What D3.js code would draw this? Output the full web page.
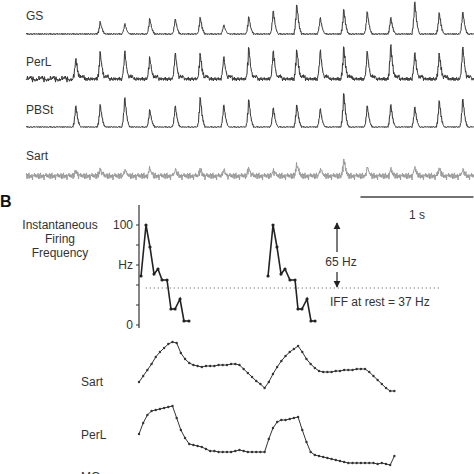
<!DOCTYPE html>
<html>
<head>
<meta charset="utf-8">
<script src="https://cdn.jsdelivr.net/npm/d3@7"></script>
<style>
  body { margin: 0; background: #fff; }
  text { font-family: "Liberation Sans", Arial, sans-serif; fill: #333; }
</style>
</head>
<body>
<svg id="fig" width="474" height="474"></svg>
<script>
// ---- data -------------------------------------------------------------
// spike times (s) in the EMG traces
const spikeTimes = [0.44, 0.655, 0.876, 1.097, 1.319, 1.54, 1.752, 1.973, 2.186, 2.398, 2.602, 2.814, 3.018, 3.23, 3.442, 3.655, 3.867]
// spike amplitudes (px) per muscle
const gsAmp   = [0, 12, 10, 15, 15, 16, 9, 17, 23, 29, 16, 24, 22, 16, 32, 21, 22]
const perlAmp = [20, 26, 27, 21, 26, 24, 22, 31, 28, 29, 28, 31, 27, 33, 26, 25, 32]
const pbstAmp = [21, 22, 29, 17, 21, 29, 22, 27, 19, 22, 18, 33, 21, 22, 20, 26, 28]
const sartAmp = [5, 7, 6, 7, 6, 6, 6, 8, 6, 12, 7, 16, 8, 6, 8, 7, 6]
// hand-read baseline wiggle, repeated along the trace
const wiggle = [0, 0.6, -0.4, 0.9, -0.7, 0.2, 0.5, -0.9, 0.3, -0.2, 0.8, -0.5, 0.1, -0.8, 0.6, 0.4, -0.3, 0.7, -0.6, 0.2, -0.1, 0.5, -0.7]
const spikeShape = [0.15, 0.5, 1, 0.7, 0.4, 0.2, 0.08]

// instantaneous firing frequency (Hz)
const iffTimes1 = [1.018, 1.062, 1.097, 1.133, 1.168, 1.204, 1.248, 1.283, 1.319, 1.363, 1.398, 1.442]
const iffTimes2 = [2.142, 2.186, 2.221, 2.257, 2.292, 2.336, 2.381, 2.407, 2.442, 2.487, 2.522, 2.558]
const iffValues = [49, 100, 78, 51, 56, 45, 45, 16, 16, 26, 4, 4]
const iffRest = 37
const iffTicks = [0, 20, 40, 60, 80, 100]

// rectified, smoothed EMG envelopes (arbitrary units)
const sartEnv = [18, 24, 30, 36, 43, 48, 52, 56, 58, 57, 47, 41, 37, 35, 34, 33, 34, 34, 34, 35, 35, 35, 36, 36, 35, 31, 27, 23, 19, 16, 12, 18, 26, 33, 39, 44, 48, 51, 54, 48, 41, 36, 32, 29, 28, 28, 28, 29, 29, 30, 30, 30, 31, 31, 31, 28, 24, 20, 16, 12, 9, 9]
const perlEnv = [31, 42, 50, 54, 55, 56, 57, 58, 59, 47, 35, 27, 21, 20, 19, 18, 16, 14, 14, 13, 13, 13, 13, 14, 15, 14, 13, 13, 13, 13, 13, 26, 37, 43, 45, 45, 46, 47, 48, 35, 23, 13, 10, 9, 8, 7, 6, 5, 4, 3, 2, 2, 2, 2, 2, 2, 2, 1, 2, 1, 0, 9]
const envStart = 1.0, envEnd = 3.26

// ---- layout -----------------------------------------------------------
const svg = d3.select('#fig')
const x = d3.scaleLinear().domain([0, 1]).range([26, 139])
const tEnd = x.invert(474)
const fs = 12

const traces = [
    { name: 'GS', base: 34, amp: gsAmp, noise: 0.9, color: '#3a3a3a', label: 20 },
    { name: 'PerL', base: 79, amp: perlAmp, noise: 2.0, color: '#333', label: 66 },
    { name: 'PBSt', base: 127, amp: pbstAmp, noise: 0.7, color: '#333', label: 114 },
    { name: 'Sart', base: 176, amp: sartAmp, noise: 3.4, color: '#9a9a9a', label: 160 }
]

traces.forEach(tr => {
    const pts = []
    const n = Math.round((x(tEnd) - x(0)) * 2)
    for (let i = 0; i <= n; i++) {
        const t = tEnd * i / n
        let v = wiggle[i % wiggle.length] * tr.noise
        if (tr.name === 'Sart') v += wiggle[(i * 5 + 3) % wiggle.length] * 1.8
        if (tr.name === 'PerL' && t < 0.42) v += wiggle[(i * 7) % wiggle.length] * 2.2
        spikeTimes.forEach((st, k) => {
            const d = Math.round((t - st) * 113)
            if (d >= -2 && d < spikeShape.length - 2) v += tr.amp[k] * spikeShape[d + 2]
            if (tr.name === 'PerL' && d >= 5 && d <= 8 && tr.amp[k] > 0) v += 2.5
        })
        pts.push([t, v])
    }
    svg.append('path')
        .datum(pts)
        .attr('d', d3.line().x(d => x(d[0])).y(d => tr.base - d[1]))
        .attr('fill', 'none')
        .attr('stroke', tr.color)
        .attr('stroke-width', 1)
    svg.append('text').attr('x', 26).attr('y', tr.label).attr('font-size', fs).text(tr.name)
})

// panel letter + scale bar
svg.append('text').attr('x', 0).attr('y', 207).attr('font-size', 16).attr('font-weight', 'bold').style('fill', '#111').text('B')
svg.append('line').attr('x1', x(envStart + 1.96)).attr('x2', x(envStart + 2.96)).attr('y1', 197).attr('y2', 197)
    .attr('stroke', '#444').attr('stroke-width', 1.5)
svg.append('text').attr('x', x(envStart + 2.46)).attr('y', 219).attr('font-size', fs).attr('text-anchor', 'middle').text('1 s')

// ---- IFF panel --------------------------------------------------------
const y = d3.scaleLinear().domain([0, 100]).range([325, 225])
const axisX = x(1.0)
svg.append('line').attr('x1', axisX).attr('x2', axisX).attr('y1', y(120)).attr('y2', y(-3))
    .attr('stroke', '#333').attr('stroke-width', 1.2)
iffTicks.forEach(tk => {
    svg.append('line').attr('x1', axisX - 3).attr('x2', axisX).attr('y1', y(tk)).attr('y2', y(tk))
        .attr('stroke', '#333').attr('stroke-width', 1)
})
svg.append('text').attr('x', 133).attr('y', y(100) + 4).attr('font-size', fs).attr('text-anchor', 'end').text('100')
svg.append('text').attr('x', 133).attr('y', y(60) + 4).attr('font-size', fs).attr('text-anchor', 'end').text('Hz')
svg.append('text').attr('x', 133).attr('y', y(0) + 4).attr('font-size', fs).attr('text-anchor', 'end').text('0')
;['Instantaneous', 'Firing', 'Frequency'].forEach((s, i) => {
    svg.append('text').attr('x', 60).attr('y', 229 + i * 14).attr('font-size', fs).attr('text-anchor', 'middle').text(s)
})

svg.append('line').attr('x1', x(1.06)).attr('x2', x(3.67)).attr('y1', y(iffRest)).attr('y2', y(iffRest))
    .attr('stroke', '#555').attr('stroke-width', 1).attr('stroke-dasharray', '1,3')

;[iffTimes1, iffTimes2].forEach(times => {
    const d = times.map((t, i) => [t, iffValues[i]])
    svg.append('path').datum(d)
        .attr('d', d3.line().x(p => x(p[0])).y(p => y(p[1])))
        .attr('fill', 'none').attr('stroke', '#222').attr('stroke-width', 1.6)
    svg.selectAll(null).data(d).join('circle')
        .attr('cx', p => x(p[0])).attr('cy', p => y(p[1])).attr('r', 1.6).attr('fill', '#222')
})

// 65 Hz arrow
const ax = 337
svg.append('defs').append('marker').attr('id', 'ah').attr('viewBox', '0 0 10 10')
    .attr('refX', 9).attr('refY', 5).attr('markerWidth', 6).attr('markerHeight', 6).attr('orient', 'auto')
    .append('path').attr('d', 'M0,0 L10,5 L0,10 z').attr('fill', '#222')
svg.append('line').attr('x1', ax).attr('x2', ax).attr('y1', 252).attr('y2', y(102))
    .attr('stroke', '#222').attr('stroke-width', 1.2).attr('marker-end', 'url(#ah)')
svg.append('line').attr('x1', ax).attr('x2', ax).attr('y1', 272).attr('y2', y(iffRest) - 1)
    .attr('stroke', '#222').attr('stroke-width', 1.2).attr('marker-end', 'url(#ah)')
svg.append('text').attr('x', 341).attr('y', 266).attr('font-size', fs).attr('text-anchor', 'middle').text('65 Hz')
svg.append('text').attr('x', 330).attr('y', 306).attr('font-size', fs).text('IFF at rest = 37 Hz')

// ---- envelopes --------------------------------------------------------
const envs = [
    { name: 'Sart', data: sartEnv, base: 400, label: 386 },
    { name: 'PerL', data: perlEnv, base: 465, label: 439 }
]
envs.forEach(e => {
    const tx = d3.scaleLinear().domain([0, e.data.length - 1]).range([envStart, envEnd])
    const d = e.data.map((v, i) => [tx(i), v])
    svg.append('path').datum(d)
        .attr('d', d3.line().x(p => x(p[0])).y(p => e.base - p[1]))
        .attr('fill', 'none').attr('stroke', '#333').attr('stroke-width', 1)
    svg.selectAll(null).data(d).join('circle')
        .attr('cx', p => x(p[0])).attr('cy', p => e.base - p[1]).attr('r', 1.2).attr('fill', '#333')
    svg.append('text').attr('x', 81).attr('y', e.label).attr('font-size', fs).text(e.name)
})
svg.append('text').attr('x', 81).attr('y', 481).attr('font-size', fs).text('MG')
</script>
</body>
</html>
